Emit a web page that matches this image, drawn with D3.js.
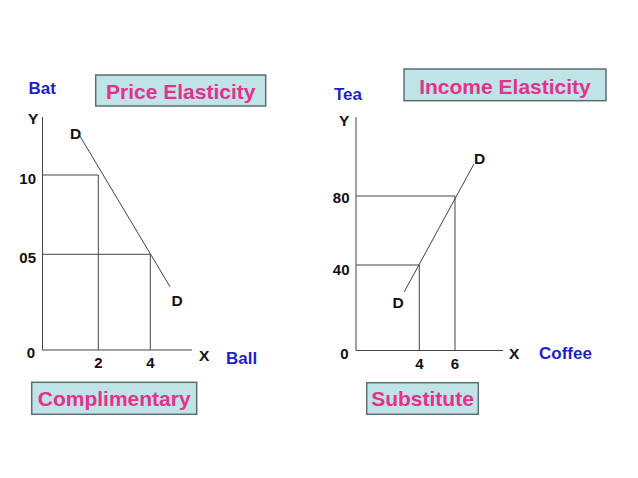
<!DOCTYPE html>
<html>
<head>
<meta charset="utf-8">
<script src="https://cdn.jsdelivr.net/npm/d3@7/dist/d3.min.js"></script>
<style>
  html, body { margin: 0; padding: 0; background: #ffffff; }
  svg text { font-family: "Liberation Sans", Arial, sans-serif; font-weight: bold; }
</style>
</head>
<body>
<svg id="chart" width="638" height="478"></svg>
<script>
// ---------- data ----------
// Left panel: Price Elasticity (Complimentary goods)
const leftXTicks = [2, 4];
const leftXTickLabels = ["2", "4"];
const leftYTicks = [5, 10];
const leftYTickLabels = ["05", "10"];
const leftDemand = [{x: 1.34, y: 12.46}, {x: 4.76, y: 3.3}];
const leftPoints = [{x: 2, y: 10}, {x: 4, y: 5}];

// Right panel: Income Elasticity (Substitute goods)
const rightXTicks = [4, 6];
const rightXTickLabels = ["4", "6"];
const rightYTicks = [40, 80];
const rightYTickLabels = ["40", "80"];
const rightDemand = [{x: 3.05, y: 27.5}, {x: 7.06, y: 98.5}];
const rightPoints = [{x: 4, y: 40}, {x: 6, y: 80}];

const titles = ["Price Elasticity", "Income Elasticity"];
const captions = ["Complimentary", "Substitute"];
const yNames = ["Bat", "Tea"];
const xNames = ["Ball", "Coffee"];

// ---------- styles ----------
const PINK = "#e6318b";
const BLUE = "#1f1fcc";
const BOXFILL = "#bfe3e6";
const BOXSTROKE = "#5f6e72";
const LINE = "#444";

const svg = d3.select("#chart");

function labelBox(cfg, text) {
  svg.append("rect")
    .attr("x", cfg.x).attr("y", cfg.y)
    .attr("width", cfg.w).attr("height", cfg.h)
    .attr("fill", BOXFILL).attr("stroke", BOXSTROKE).attr("stroke-width", 1.5);
  svg.append("text")
    .attr("x", cfg.x + cfg.w / 2).attr("y", cfg.baseline)
    .attr("text-anchor", "middle")
    .attr("font-size", cfg.fs).attr("fill", PINK)
    .text(text);
}

function panel(p) {
  const x = d3.scaleLinear().domain(p.xDomain).range(p.xRange);
  const y = d3.scaleLinear().domain(p.yDomain).range(p.yRange);
  const g = svg.append("g");
  const x0 = x(0), y0 = y(0);

  // axes
  g.append("line").attr("x1", x0).attr("x2", x0).attr("y1", p.axisTop).attr("y2", y0)
    .attr("stroke", LINE).attr("stroke-width", 1);
  g.append("line").attr("x1", x0).attr("x2", p.axisRight).attr("y1", y0).attr("y2", y0)
    .attr("stroke", LINE).attr("stroke-width", 1);

  // guide lines
  p.points.forEach(d => {
    g.append("line").attr("x1", x0).attr("x2", x(d.x)).attr("y1", y(d.y)).attr("y2", y(d.y))
      .attr("stroke", LINE).attr("stroke-width", 1);
    g.append("line").attr("x1", x(d.x)).attr("x2", x(d.x)).attr("y1", y(d.y)).attr("y2", y0)
      .attr("stroke", LINE).attr("stroke-width", 1);
  });

  // demand line
  g.append("path").datum(p.demand)
    .attr("d", d3.line().x(d => x(d.x)).y(d => y(d.y)))
    .attr("fill", "none").attr("stroke", LINE).attr("stroke-width", 1);

  // tick labels
  p.xTicks.forEach((t, i) => {
    g.append("text").attr("x", x(t)).attr("y", y0 + 18).attr("text-anchor", "middle")
      .attr("font-size", 15).attr("fill", "#111").text(p.xTickLabels[i]);
  });
  p.yTicks.forEach((t, i) => {
    g.append("text").attr("x", x0 - 6.5).attr("y", y(t) + p.yTickDy[i]).attr("text-anchor", "end")
      .attr("font-size", 15).attr("fill", "#111").text(p.yTickLabels[i]);
  });
  g.append("text").attr("x", x0 - 7.5).attr("y", y0 + 8).attr("text-anchor", "end")
    .attr("font-size", 15).attr("fill", "#111").text("0");

  // axis letters
  g.append("text").attr("x", p.yLetter[0]).attr("y", p.yLetter[1]).attr("font-size", 15.5)
    .attr("fill", "#111").text("Y");
  g.append("text").attr("x", p.xLetter[0]).attr("y", p.xLetter[1]).attr("font-size", 15.5)
    .attr("fill", "#111").text("X");
  p.dLabels.forEach(d => {
    g.append("text").attr("x", d[0]).attr("y", d[1]).attr("font-size", 15.5)
      .attr("fill", "#111").text("D");
  });

  // axis names
  g.append("text").attr("x", p.yName[0]).attr("y", p.yName[1]).attr("font-size", 17)
    .attr("fill", BLUE).text(p.yNameText);
  g.append("text").attr("x", p.xName[0]).attr("y", p.xName[1]).attr("font-size", 17)
    .attr("fill", BLUE).text(p.xNameText);
}

panel({
  xDomain: [0, 2, 4], xRange: [42.5, 98.3, 150.3],
  yDomain: [0, 5, 10], yRange: [350, 254.3, 175],
  axisTop: 117, axisRight: 192,
  xTicks: leftXTicks, xTickLabels: leftXTickLabels,
  yTicks: leftYTicks, yTickLabels: leftYTickLabels, yTickDy: [8.7, 9],
  points: leftPoints, demand: leftDemand,
  yLetter: [28, 124], xLetter: [199, 361],
  dLabels: [[70, 139], [171.5, 306]],
  yName: [28.5, 94], yNameText: yNames[0],
  xName: [226, 364], xNameText: xNames[0]
});

panel({
  xDomain: [0, 4, 6], xRange: [356, 419.3, 455],
  yDomain: [0, 40, 80], yRange: [350.5, 265, 196],
  axisTop: 117, axisRight: 503,
  xTicks: rightXTicks, xTickLabels: rightXTickLabels,
  yTicks: rightYTicks, yTickLabels: rightYTickLabels, yTickDy: [10, 6.7],
  points: rightPoints, demand: rightDemand,
  yLetter: [339, 125.5], xLetter: [509, 359],
  dLabels: [[392.5, 308], [474, 164]],
  yName: [334, 100], yNameText: yNames[1],
  xName: [539, 359], xNameText: xNames[1]
});

labelBox({x: 95.7, y: 75, w: 170, h: 31, baseline: 98.5, fs: 21}, titles[0]);
labelBox({x: 404, y: 69, w: 202, h: 31.7, baseline: 93.5, fs: 21}, titles[1]);
labelBox({x: 31.7, y: 382.3, w: 165, h: 32, baseline: 406, fs: 21}, captions[0]);
labelBox({x: 366.7, y: 382.7, w: 111.6, h: 31.6, baseline: 406, fs: 21}, captions[1]);
</script>
</body>
</html>
